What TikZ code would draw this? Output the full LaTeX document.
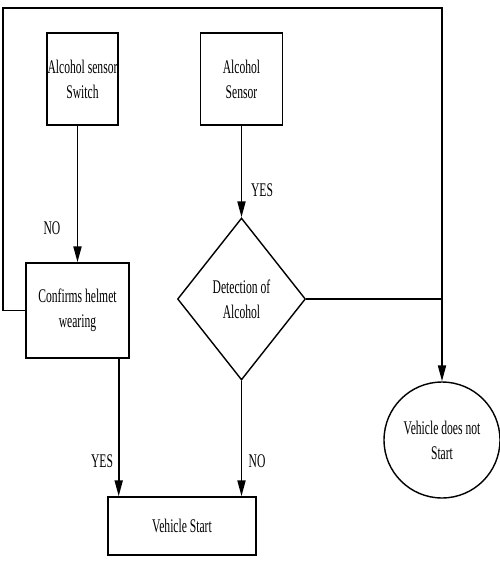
\documentclass[tikz,border=0pt]{standalone}
\usepackage{fontspec}
\setmainfont{Liberation Serif}[FakeStretch=0.6]
\usetikzlibrary{arrows.meta,shapes.geometric}
\tikzset{
  block/.style={draw, line width=0.8pt, align=center, inner sep=0pt},
  arr/.style={-{Triangle[length=3.2mm,width=1.6mm]}, line width=1.1pt}
}
\begin{document}
\begin{tikzpicture}[x=0.02cm, y=-0.02cm, font=\fontsize{11}{14.2}\selectfont]
                \useasboundingbox (0,0) rectangle (500,565);
                \node[block, minimum width=1.42cm, minimum height=1.84cm] (switch) at (82.5,79) {Alcohol sensor\\Switch};
                \node[block, minimum width=1.64cm, minimum height=1.84cm] (sensor) at (241.5,79) {Alcohol\\Sensor};
                \node[block, minimum width=2.06cm, minimum height=1.9cm] (helmet) at (77.5,310.5) {Confirms helmet\\wearing};
                \node[block, diamond, minimum width=2.56cm, minimum height=3.24cm] (detect) at (241.5,299) {Detection of\\Alcohol};
                \node[block, circle, minimum size=2.32cm] (nostart) at (442,440) {Vehicle does not\\Start};
                \node[block, minimum width=2.96cm, minimum height=1.16cm] (start) at (182,526) {Vehicle Start};
                \node (no1) at (52,228) {NO};
                \node (yes1) at (262,190) {YES};
                \node (yes2) at (102,461) {YES};
                \node (no2) at (257,461) {NO};
                \coordinate (tl) at (3,8);
                \coordinate (tr) at (442,8);
                \coordinate (hs) at ([xshift=-0.22cm]helmet.south east);
                \draw[arr] (switch.south -| helmet.north) -- (helmet.north);
                \draw[arr] (sensor.south) -- (detect.north);
                \draw[arr] (hs) -- (hs |- start.north);
                \draw[arr] (detect.south) -- (detect.south |- start.north);
                \draw[line width=1.1pt] (detect.east) -- (detect.east -| nostart.north);
                \draw[arr] (helmet.west) -| (tl) -- (tr) -- (nostart.north);
            \end{tikzpicture}
\end{document}
